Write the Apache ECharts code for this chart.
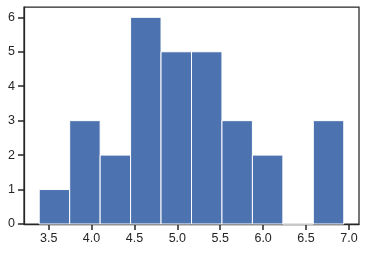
<!DOCTYPE html>
<html>
<head>
<meta charset="utf-8">
<script src="https://cdn.jsdelivr.net/npm/echarts@6/dist/echarts.min.js"></script>
<style>html,body{margin:0;padding:0;background:#fff}#c{width:366px;height:253px}</style>
</head>
<body>
<div id="c"></div>
<script>
var binEdges = [3.39, 3.745, 4.10, 4.455, 4.81, 5.165, 5.52, 5.875, 6.23, 6.585, 6.94];
var counts = [1, 3, 2, 6, 5, 5, 3, 2, 0, 3];
var xTicks = [3.5, 4.0, 4.5, 5.0, 5.5, 6.0, 6.5, 7.0];
var yTicks = [0, 1, 2, 3, 4, 5, 6];

var data = counts.map(function (c, i) { return [binEdges[i], binEdges[i + 1], c]; });
var chart = echarts.init(document.getElementById('c'), null, {renderer: 'canvas'});
var txt = '#262626';
var font = 'Liberation Sans, Arial, sans-serif';
chart.setOption({
  animation: false,
  grid: {left: 24, right: 7, top: 7, bottom: 29, show: true, borderColor: txt, borderWidth: 1.25, backgroundColor: 'transparent'},
  xAxis: {
    type: 'value', min: 3.2125, max: 7.1175,
    splitLine: {show: false},
    axisLine: {show: true, onZero: false, lineStyle: {color: txt, width: 1.25}},
    axisTick: {show: true, inside: false, length: 6, customValues: xTicks, lineStyle: {color: txt, width: 1.5}},
    axisLabel: {customValues: xTicks, margin: 8, fontSize: 12.5, color: txt, fontFamily: font,
      formatter: function (v) { return v.toFixed(1); }}
  },
  yAxis: {
    type: 'value', min: 0, max: 6.3,
    splitLine: {show: false},
    axisLine: {show: true, onZero: false, lineStyle: {color: txt, width: 1.25}},
    axisTick: {show: true, inside: false, length: 6, customValues: yTicks, lineStyle: {color: txt, width: 1.5}},
    axisLabel: {customValues: yTicks, margin: 9, fontSize: 12.5, color: txt, fontFamily: font}
  },
  series: [{
    type: 'custom',
    data: data,
    encode: {x: [0, 1], y: 2},
    renderItem: function (params, api) {
      var p0 = api.coord([api.value(0), 0]);
      var p1 = api.coord([api.value(1), api.value(2)]);
      return {
        type: 'rect',
        shape: {x: p0[0], y: p1[1], width: p1[0] - p0[0], height: p0[1] - p1[1]},
        style: {fill: '#4c72b0', stroke: '#ffffff', lineWidth: 1}
      };
    }
  }]
});
</script>
</body>
</html>
